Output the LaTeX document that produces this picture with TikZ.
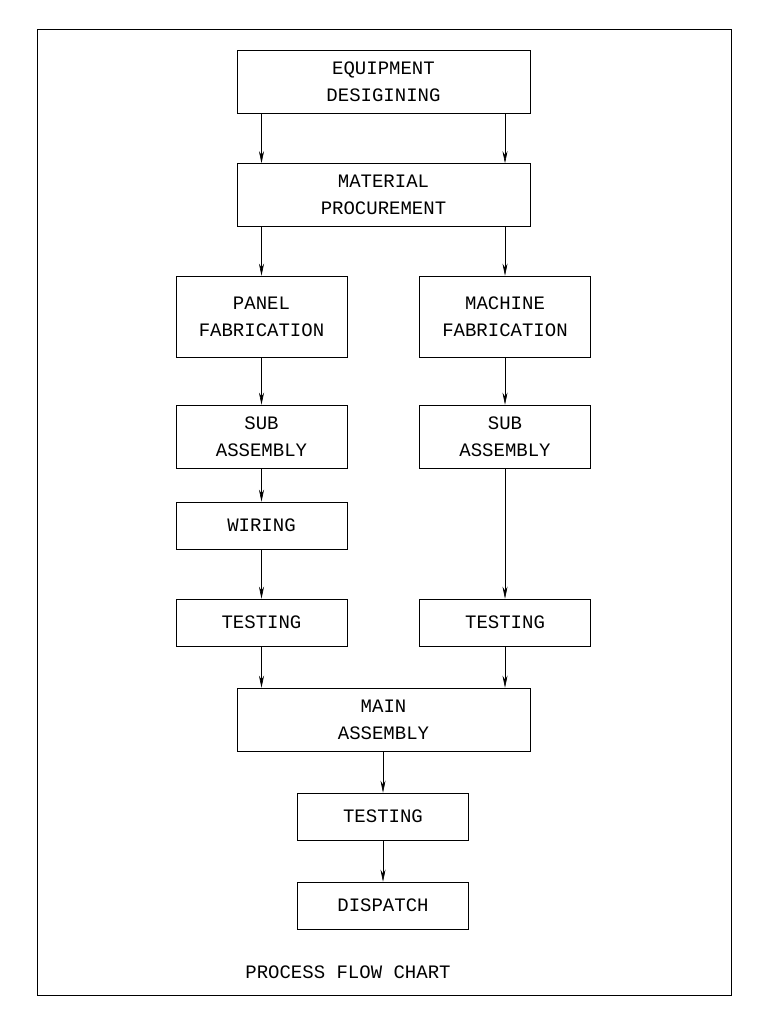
\documentclass[tikz,border=0pt]{standalone}
\usepackage{fontspec}
\setmainfont{Liberation Mono}
\usetikzlibrary{arrows.meta, positioning}
\begin{document}
\begin{tikzpicture}[x=1pt,y=-1pt]
		\tikzstyle{Node} = [rectangle, inner sep=0pt, text centered, align=center, draw=black, line width = 0.6pt, font=\fontsize{19}{27}\selectfont]
		\tikzstyle{Wide} = [Node, minimum width=293pt, minimum height=63pt]
		\tikzstyle{Half} = [Node, minimum width=171pt, minimum height=63pt]
		\tikzstyle{Tall} = [Node, minimum width=171pt, minimum height=81pt]
		\tikzstyle{Thin} = [Node, minimum width=171pt, minimum height=47pt]
		\tikzstyle{arrow} = [line width=0.6pt, -{Stealth[length=12pt,width=5pt]}]

		\useasboundingbox (0,0) rectangle (768,1024);
		\draw[line width=0.6pt] (37,29) rectangle (731,995);

		\node (equip) [Wide] at (383.5,81.5) {EQUIPMENT\\DESIGINING};
		\node (mat) [Wide] at (383.5,195) {MATERIAL\\PROCUREMENT};
		\node (panel) [Tall] at (261.5,316.5) {PANEL\\FABRICATION};
		\node (mach) [Tall] at (505,316.5) {MACHINE\\FABRICATION};
		\node (subL) [Half] at (261.5,436.5) {SUB\\ASSEMBLY};
		\node (subR) [Half] at (505,436.5) {SUB\\ASSEMBLY};
		\node (wiring) [Thin] at (261.5,525.5) {WIRING};
		\node (testL) [Thin] at (261.5,622.5) {TESTING};
		\node (testR) [Thin] at (505,622.5) {TESTING};
		\node (main) [Wide] at (383.5,719.5) {MAIN\\ASSEMBLY};
		\node (test) [Thin] at (383,816.5) {TESTING};
		\node (disp) [Thin] at (383,905.5) {DISPATCH};
		\node (title) [font=\fontsize{19}{22}\selectfont] at (348,972) {PROCESS FLOW CHART};

		\draw[arrow] (equip.south -| panel.north) -- (mat.north -| panel.north);
		\draw[arrow] (equip.south -| mach.north) -- (mat.north -| mach.north);
		\draw[arrow] (mat.south -| panel.north) -- (panel.north);
		\draw[arrow] (mat.south -| mach.north) -- (mach.north);
		\draw[arrow] (panel) -- (subL);
		\draw[arrow] (mach) -- (subR);
		\draw[arrow] (subL) -- (wiring);
		\draw[arrow] (wiring) -- (testL);
		\draw[arrow] (subR) -- (testR);
		\draw[arrow] (testL.south) -- (main.north -| testL.south);
		\draw[arrow] (testR.south) -- (main.north -| testR.south);
		\draw[arrow] (main.south -| test.north) -- (test.north);
		\draw[arrow] (test) -- (disp);
\end{tikzpicture}
\end{document}
